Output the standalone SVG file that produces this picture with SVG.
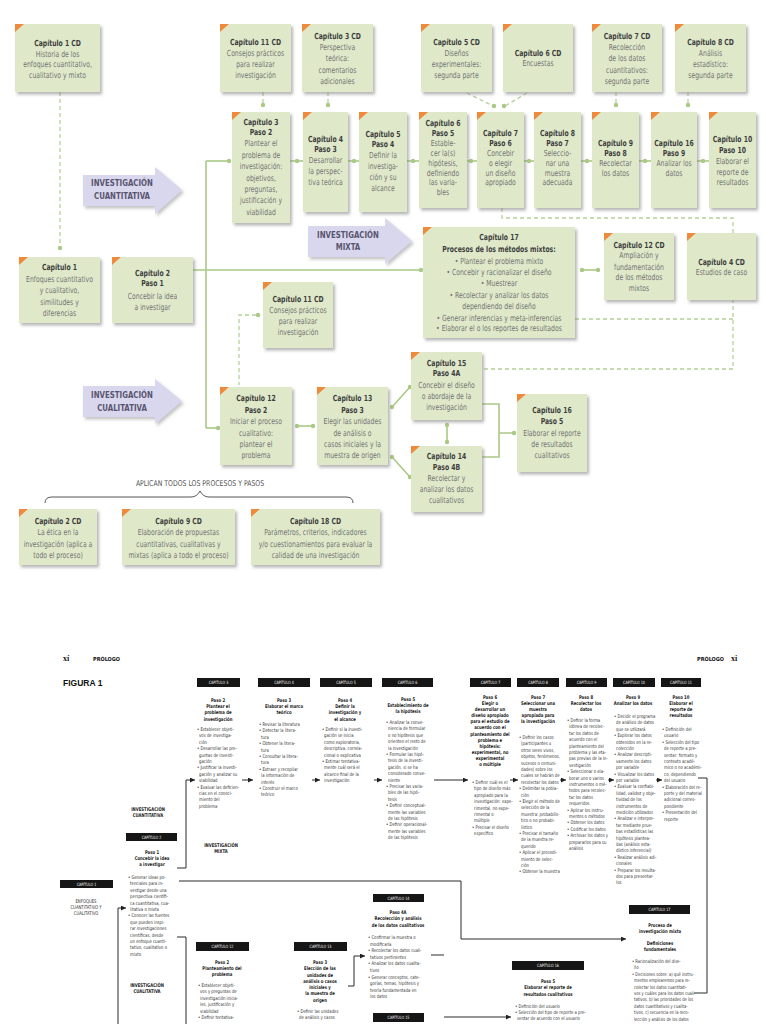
<svg xmlns="http://www.w3.org/2000/svg" width="768" height="1024" viewBox="0 0 768 1024">
<defs>
<filter id="sh" x="-10%" y="-10%" width="125%" height="125%"><feDropShadow dx="2" dy="2.5" stdDeviation="1.4" flood-color="#7a7a7a" flood-opacity="0.55"/></filter>
<filter id="sh2" x="-10%" y="-20%" width="125%" height="150%"><feDropShadow dx="2" dy="2.5" stdDeviation="1.6" flood-color="#8a8a8a" flood-opacity="0.5"/></filter>
<marker id="ah" viewBox="0 0 6 6" refX="6" refY="3" markerWidth="5" markerHeight="5" orient="auto" markerUnits="userSpaceOnUse"><path d="M0,0 L6,3 L0,6 Z" fill="#222"/></marker>
<style>
.bx{fill:#dfe9c9;filter:url(#sh)}
.tr{fill:#ef8a3c}
.t{font-family:"DejaVu Sans Condensed","Liberation Sans",sans-serif;font-size:8.3px;fill:#747474;text-anchor:middle}
.h{font-weight:bold;fill:#3e3e3e}
.ar{fill:#d9d7ee;filter:url(#sh2)}
.at{font-family:"DejaVu Sans Condensed","Liberation Sans",sans-serif;font-size:9.5px;font-weight:bold;fill:#58546f;text-anchor:middle}
.ln{stroke:#a9c985;stroke-width:1.6;fill:none}
.dl{stroke:#b4d298;stroke-width:1.3;stroke-dasharray:4 3;fill:none}
.dt{fill:#a9c985}
.p{font-family:"DejaVu Sans Condensed","Liberation Sans",sans-serif;font-size:5px;fill:#333}
.pb{font-weight:bold;fill:#1a1a1a;text-anchor:middle}
.bar{fill:#161616}
.bt{font-family:"DejaVu Sans Condensed","Liberation Sans",sans-serif;font-size:4.4px;fill:#f4f4f4;text-anchor:middle}
.pl{stroke:#2a2a2a;stroke-width:1;fill:none}
.lb{font-family:"DejaVu Sans Condensed","Liberation Sans",sans-serif;font-size:5px;font-weight:bold;fill:#1a1a1a;text-anchor:middle}
</style>
</defs>
<rect width="768" height="1024" fill="#ffffff"/>

<!-- ===== connectors (top diagram) ===== -->
<g id="connectors">
<path class="dl" d="M60,92 V246"/><circle class="dt" cx="60" cy="248" r="2.2"/>
<path class="dl" d="M263,92 V104"/><circle class="dt" cx="263" cy="105" r="2.2"/>
<path class="dl" d="M328,92 V104"/><circle class="dt" cx="328" cy="105" r="2.2"/>
<path class="dl" d="M467,93 L493,106"/><circle class="dt" cx="494" cy="106" r="2.2"/>
<path class="dl" d="M527,93 L505,106"/><circle class="dt" cx="504" cy="106" r="2.2"/>
<path class="dl" d="M616,92 V104"/><circle class="dt" cx="616" cy="105" r="2.2"/>
<path class="dl" d="M688,92 V104"/><circle class="dt" cx="688" cy="105" r="2.2"/>
<path class="dl" d="M502,208 V218 H733 V369 H484"/>
<path class="dl" d="M575,319 H733"/>
<path class="dl" d="M256,315 H239 V385"/><circle class="dt" cx="258" cy="315" r="2.2"/>

<path class="ln" d="M206,161 V428"/>
<path class="ln" d="M206,161 H228"/><circle class="dt" cx="229" cy="161" r="2.2"/>
<path class="ln" d="M290,161 H303"/><circle class="dt" cx="297" cy="161" r="2.2"/>
<path class="ln" d="M348,161 H359"/><circle class="dt" cx="354" cy="161" r="2.2"/>
<path class="ln" d="M407,161 H419"/><circle class="dt" cx="413" cy="161" r="2.2"/>
<path class="ln" d="M467,161 H477"/><circle class="dt" cx="471" cy="161" r="2.2"/>
<path class="ln" d="M524,161 H534"/><circle class="dt" cx="529" cy="161" r="2.2"/>
<path class="ln" d="M581,161 H592"/><circle class="dt" cx="587" cy="161" r="2.2"/>
<path class="ln" d="M639,161 H651"/><circle class="dt" cx="645" cy="161" r="2.2"/>
<path class="ln" d="M697,161 H709"/><circle class="dt" cx="703" cy="161" r="2.2"/>
<path class="ln" d="M193,270 H420"/><circle class="dt" cx="421" cy="270" r="2.2"/>
<path class="ln" d="M582,270 H598"/><circle class="dt" cx="582" cy="270" r="2.2"/><circle class="dt" cx="598" cy="270" r="2.2"/>
<path class="ln" d="M206,428 H217"/><circle class="dt" cx="218" cy="428" r="2.2"/>
<path class="ln" d="M297,426 H313"/><circle class="dt" cx="297" cy="426" r="2.2"/><circle class="dt" cx="313" cy="426" r="2.2"/>
<path class="ln" d="M392,407 L410,387"/><circle class="dt" cx="392" cy="407" r="2.2"/><circle class="dt" cx="410" cy="387" r="2.2"/>
<path class="ln" d="M392,457 L410,477"/><circle class="dt" cx="392" cy="457" r="2.2"/><circle class="dt" cx="410" cy="477" r="2.2"/>
<path class="ln" d="M447,425 V442"/><circle class="dt" cx="447" cy="425" r="2.2"/><circle class="dt" cx="447" cy="442" r="2.2"/>
<path class="ln" d="M482,404 H499 V457 H482 M499,433 H514"/><circle class="dt" cx="514" cy="433" r="2.2"/>
<path d="M45,503 Q45,497 52,497 H191 Q197,497 200,491 Q203,497 209,497 H346 Q353,497 353,503" fill="none" stroke="#555" stroke-width="1"/>
</g>

<!-- ===== arrows ===== -->
<g id="arrow-cuantitativa"><polygon class="ar" points="83,175 155,175 155,167 182,190 155,214 155,206 83,206"/><text class="at" transform="translate(122 186) scale(0.82 1)"><tspan x="0" y="0">INVESTIGACIÓN</tspan><tspan x="0" dy="13">CUANTITATIVA</tspan></text></g>
<g id="arrow-mixta"><polygon class="ar" points="308,226 385,226 385,218 412,241 385,264 385,257 308,257"/><text class="at" transform="translate(348 238) scale(0.82 1)"><tspan x="0" y="0">INVESTIGACIÓN</tspan><tspan x="0" dy="12">MIXTA</tspan></text></g>
<g id="arrow-cualitativa"><polygon class="ar" points="83,386 155,386 155,379 182,401 155,424 155,417 83,417"/><text class="at" transform="translate(122 398) scale(0.82 1)"><tspan x="0" y="0">INVESTIGACIÓN</tspan><tspan x="0" dy="13">CUALITATIVA</tspan></text></g>

<!-- ===== top row CD nodes ===== -->
<g id="cap1cd"><rect class="bx" x="15" y="24" width="85" height="68"/><polygon class="tr" points="15,24 24,24 15,32"/><text class="t" transform="translate(57.5 46) scale(0.82 1)"><tspan class="h" x="0" y="0">Capítulo 1 CD</tspan><tspan x="0" dy="10.7">Historia de los</tspan><tspan x="0" dy="10.7">enfoques cuantitativo,</tspan><tspan x="0" dy="10.7">cualitativo y mixto</tspan></text></g>
<g id="cap11cd"><rect class="bx" x="220" y="24" width="71" height="68"/><polygon class="tr" points="220,24 229,24 220,32"/><text class="t" transform="translate(255.5 45) scale(0.82 1)"><tspan class="h" x="0" y="0">Capítulo 11 CD</tspan><tspan x="0" dy="11">Consejos prácticos</tspan><tspan x="0" dy="11">para realizar</tspan><tspan x="0" dy="11">investigación</tspan></text></g>
<g id="cap3cd"><rect class="bx" x="302" y="24" width="71" height="68"/><polygon class="tr" points="302,24 311,24 302,32"/><text class="t" transform="translate(337.5 39) scale(0.82 1)"><tspan class="h" x="0" y="0">Capítulo 3 CD</tspan><tspan x="0" dy="11.2">Perspectiva</tspan><tspan x="0" dy="11.2">teórica:</tspan><tspan x="0" dy="11.2">comentarios</tspan><tspan x="0" dy="11.2">adicionales</tspan></text></g>
<g id="cap5cd"><rect class="bx" x="421" y="24" width="71" height="68"/><polygon class="tr" points="421,24 430,24 421,32"/><text class="t" transform="translate(456.5 45) scale(0.82 1)"><tspan class="h" x="0" y="0">Capítulo 5 CD</tspan><tspan x="0" dy="11">Diseños</tspan><tspan x="0" dy="11">experimentales:</tspan><tspan x="0" dy="11">segunda parte</tspan></text></g>
<g id="cap6cd"><rect class="bx" x="503" y="24" width="70" height="68"/><polygon class="tr" points="503,24 512,24 503,32"/><text class="t" transform="translate(538 56) scale(0.82 1)"><tspan class="h" x="0" y="0">Capítulo 6 CD</tspan><tspan x="0" dy="10.5">Encuestas</tspan></text></g>
<g id="cap7cd"><rect class="bx" x="592" y="24" width="70" height="68"/><polygon class="tr" points="592,24 601,24 592,32"/><text class="t" transform="translate(627 39) scale(0.82 1)"><tspan class="h" x="0" y="0">Capítulo 7 CD</tspan><tspan x="0" dy="11.2">Recolección</tspan><tspan x="0" dy="11.2">de los datos</tspan><tspan x="0" dy="11.2">cuantitativos:</tspan><tspan x="0" dy="11.2">segunda parte</tspan></text></g>
<g id="cap8cd"><rect class="bx" x="675" y="24" width="71" height="68"/><polygon class="tr" points="675,24 684,24 675,32"/><text class="t" transform="translate(710.5 45) scale(0.82 1)"><tspan class="h" x="0" y="0">Capítulo 8 CD</tspan><tspan x="0" dy="11">Análisis</tspan><tspan x="0" dy="11">estadístico:</tspan><tspan x="0" dy="11">segunda parte</tspan></text></g>

<!-- ===== quantitative steps ===== -->
<g id="cap3p2"><rect class="bx" x="232" y="112" width="58" height="111"/><polygon class="tr" points="232,112 241,112 232,120"/><text class="t" transform="translate(261 125) scale(0.82 1)"><tspan class="h" x="0" y="0">Capítulo 3</tspan><tspan class="h" x="0" dy="10">Paso 2</tspan><tspan x="0" dy="11.4">Plantear el</tspan><tspan x="0" dy="11.4">problema de</tspan><tspan x="0" dy="11.4">investigación:</tspan><tspan x="0" dy="11.4">objetivos,</tspan><tspan x="0" dy="11.4">preguntas,</tspan><tspan x="0" dy="11.4">justificación y</tspan><tspan x="0" dy="11.4">viabilidad</tspan></text></g>
<g id="cap4p3"><rect class="bx" x="303" y="112" width="45" height="100"/><polygon class="tr" points="303,112 312,112 303,120"/><text class="t" transform="translate(325.5 142) scale(0.82 1)"><tspan class="h" x="0" y="0">Capítulo 4</tspan><tspan class="h" x="0" dy="10">Paso 3</tspan><tspan x="0" dy="11">Desarrollar</tspan><tspan x="0" dy="11">la perspec-</tspan><tspan x="0" dy="11">tiva teórica</tspan></text></g>
<g id="cap5p4"><rect class="bx" x="359" y="112" width="48" height="100"/><polygon class="tr" points="359,112 368,112 359,120"/><text class="t" transform="translate(383 137) scale(0.82 1)"><tspan class="h" x="0" y="0">Capítulo 5</tspan><tspan class="h" x="0" dy="10">Paso 4</tspan><tspan x="0" dy="11">Definir la</tspan><tspan x="0" dy="11">investiga-</tspan><tspan x="0" dy="11">ción y su</tspan><tspan x="0" dy="11">alcance</tspan></text></g>
<g id="cap6p5"><rect class="bx" x="419" y="112" width="48" height="96"/><polygon class="tr" points="419,112 428,112 419,120"/><text class="t" transform="translate(443 126) scale(0.82 1)"><tspan class="h" x="0" y="0">Capítulo 6</tspan><tspan class="h" x="0" dy="10">Paso 5</tspan><tspan x="0" dy="10">Estable-</tspan><tspan x="0" dy="10">cer la(s)</tspan><tspan x="0" dy="10">hipótesis,</tspan><tspan x="0" dy="9.7">definiendo</tspan><tspan x="0" dy="9.7">las varia-</tspan><tspan x="0" dy="9.7">bles</tspan></text></g>
<g id="cap7p6"><rect class="bx" x="477" y="112" width="47" height="96"/><polygon class="tr" points="477,112 486,112 477,120"/><text class="t" transform="translate(500.5 136) scale(0.82 1)"><tspan class="h" x="0" y="0">Capítulo 7</tspan><tspan class="h" x="0" dy="10">Paso 6</tspan><tspan x="0" dy="10">Concebir</tspan><tspan x="0" dy="10">o elegir</tspan><tspan x="0" dy="9.7">un diseño</tspan><tspan x="0" dy="9.7">apropiado</tspan></text></g>
<g id="cap8p7"><rect class="bx" x="534" y="112" width="47" height="96"/><polygon class="tr" points="534,112 543,112 534,120"/><text class="t" transform="translate(557.5 136) scale(0.82 1)"><tspan class="h" x="0" y="0">Capítulo 8</tspan><tspan class="h" x="0" dy="10">Paso 7</tspan><tspan x="0" dy="10">Seleccio-</tspan><tspan x="0" dy="10">nar una</tspan><tspan x="0" dy="9.7">muestra</tspan><tspan x="0" dy="9.7">adecuada</tspan></text></g>
<g id="cap9p8"><rect class="bx" x="592" y="112" width="47" height="96"/><polygon class="tr" points="592,112 601,112 592,120"/><text class="t" transform="translate(615.5 146) scale(0.82 1)"><tspan class="h" x="0" y="0">Capítulo 9</tspan><tspan class="h" x="0" dy="10">Paso 8</tspan><tspan x="0" dy="10">Recolectar</tspan><tspan x="0" dy="9.7">los datos</tspan></text></g>
<g id="cap16p9"><rect class="bx" x="651" y="112" width="46" height="96"/><polygon class="tr" points="651,112 660,112 651,120"/><text class="t" transform="translate(674 146) scale(0.82 1)"><tspan class="h" x="0" y="0">Capítulo 16</tspan><tspan class="h" x="0" dy="10">Paso 9</tspan><tspan x="0" dy="10">Analizar los</tspan><tspan x="0" dy="9.7">datos</tspan></text></g>
<g id="cap10p10"><rect class="bx" x="709" y="112" width="47" height="96"/><polygon class="tr" points="709,112 718,112 709,120"/><text class="t" transform="translate(732.5 142) scale(0.82 1)"><tspan class="h" x="0" y="0">Capítulo 10</tspan><tspan class="h" x="0" dy="11">Paso 10</tspan><tspan x="0" dy="11">Elaborar el</tspan><tspan x="0" dy="11">reporte de</tspan><tspan x="0" dy="10.5">resultados</tspan></text></g>

<!-- ===== middle ===== -->
<g id="cap1"><rect class="bx" x="19" y="257" width="81" height="66"/><polygon class="tr" points="19,257 28,257 19,265"/><text class="t" transform="translate(59.5 270) scale(0.82 1)"><tspan class="h" x="0" y="0">Capítulo 1</tspan><tspan x="0" dy="12">Enfoques cuantitativo</tspan><tspan x="0" dy="11.5">y cualitativo,</tspan><tspan x="0" dy="11.2">similitudes y</tspan><tspan x="0" dy="11.2">diferencias</tspan></text></g>
<g id="cap2p1"><rect class="bx" x="112" y="257" width="81" height="66"/><polygon class="tr" points="112,257 121,257 112,265"/><text class="t" transform="translate(152.5 276) scale(0.82 1)"><tspan class="h" x="0" y="0">Capítulo 2</tspan><tspan class="h" x="0" dy="10.5">Paso 1</tspan><tspan x="0" dy="12.5">Concebir la idea</tspan><tspan x="0" dy="11">a investigar</tspan></text></g>
<g id="cap11cd-b"><rect class="bx" x="263" y="282" width="70" height="66"/><polygon class="tr" points="263,282 272,282 263,290"/><text class="t" transform="translate(298 302) scale(0.82 1)"><tspan class="h" x="0" y="0">Capítulo 11 CD</tspan><tspan x="0" dy="11">Consejos prácticos</tspan><tspan x="0" dy="11">para realizar</tspan><tspan x="0" dy="11">investigación</tspan></text></g>
<g id="cap17"><rect class="bx" x="423" y="227" width="152" height="111"/><polygon class="tr" points="423,227 432,227 423,235"/><text class="t" transform="translate(499 240) scale(0.82 1)"><tspan class="h" x="0" y="0">Capítulo 17</tspan><tspan class="h" x="0" dy="12">Procesos de los métodos mixtos:</tspan><tspan x="0" dy="12.5">• Plantear el problema mixto</tspan><tspan x="0" dy="10.8">• Concebir y racionalizar el diseño</tspan><tspan x="0" dy="10.8">• Muestrear</tspan><tspan x="0" dy="11.5">• Recolectar y analizar los datos</tspan><tspan x="0" dy="11">dependiendo del diseño</tspan><tspan x="0" dy="12">• Generar inferencias y meta-inferencias</tspan><tspan x="0" dy="10.5">• Elaborar el o los reportes de resultados</tspan></text></g>
<g id="cap12cd"><rect class="bx" x="604" y="233" width="70" height="67"/><polygon class="tr" points="604,233 613,233 604,241"/><text class="t" transform="translate(639 248) scale(0.82 1)"><tspan class="h" x="0" y="0">Capítulo 12 CD</tspan><tspan x="0" dy="10.5">Ampliación y</tspan><tspan x="0" dy="11.5">fundamentación</tspan><tspan x="0" dy="10.5">de los métodos</tspan><tspan x="0" dy="11">mixtos</tspan></text></g>
<g id="cap4cd"><rect class="bx" x="687" y="233" width="69" height="67"/><polygon class="tr" points="687,233 696,233 687,241"/><text class="t" transform="translate(721.5 265) scale(0.82 1)"><tspan class="h" x="0" y="0">Capítulo 4 CD</tspan><tspan x="0" dy="10.5">Estudios de caso</tspan></text></g>

<!-- ===== qualitative ===== -->
<g id="cap12p2"><rect class="bx" x="220" y="387" width="72" height="78"/><polygon class="tr" points="220,387 229,387 220,395"/><text class="t" transform="translate(256 401) scale(0.82 1)"><tspan class="h" x="0" y="0">Capítulo 12</tspan><tspan class="h" x="0" dy="12">Paso 2</tspan><tspan x="0" dy="11.3">Iniciar el proceso</tspan><tspan x="0" dy="11.3">cualitativo:</tspan><tspan x="0" dy="11.3">plantear el</tspan><tspan x="0" dy="11.3">problema</tspan></text></g>
<g id="cap13p3"><rect class="bx" x="317" y="387" width="71" height="78"/><polygon class="tr" points="317,387 326,387 317,395"/><text class="t" transform="translate(352.5 401) scale(0.82 1)"><tspan class="h" x="0" y="0">Capítulo 13</tspan><tspan class="h" x="0" dy="12">Paso 3</tspan><tspan x="0" dy="11.3">Elegir las unidades</tspan><tspan x="0" dy="11.3">de análisis o</tspan><tspan x="0" dy="11.3">casos iniciales y la</tspan><tspan x="0" dy="11.3">muestra de origen</tspan></text></g>
<g id="cap15p4a"><rect class="bx" x="411" y="352" width="71" height="68"/><polygon class="tr" points="411,352 420,352 411,360"/><text class="t" transform="translate(446.5 366) scale(0.82 1)"><tspan class="h" x="0" y="0">Capítulo 15</tspan><tspan class="h" x="0" dy="10">Paso 4A</tspan><tspan x="0" dy="12">Concebir el diseño</tspan><tspan x="0" dy="11.5">o abordaje de la</tspan><tspan x="0" dy="10.5">investigación</tspan></text></g>
<g id="cap14p4b"><rect class="bx" x="411" y="446" width="71" height="66"/><polygon class="tr" points="411,446 420,446 411,454"/><text class="t" transform="translate(446.5 459) scale(0.82 1)"><tspan class="h" x="0" y="0">Capítulo 14</tspan><tspan class="h" x="0" dy="11">Paso 4B</tspan><tspan x="0" dy="11">Recolectar y</tspan><tspan x="0" dy="11">analizar los datos</tspan><tspan x="0" dy="11">cualitativos</tspan></text></g>
<g id="cap16p5"><rect class="bx" x="517" y="394" width="70" height="78"/><polygon class="tr" points="517,394 526,394 517,402"/><text class="t" transform="translate(552 413) scale(0.82 1)"><tspan class="h" x="0" y="0">Capítulo 16</tspan><tspan class="h" x="0" dy="11">Paso 5</tspan><tspan x="0" dy="12">Elaborar el reporte</tspan><tspan x="0" dy="11">de resultados</tspan><tspan x="0" dy="11">cualitativos</tspan></text></g>

<!-- ===== bottom CD row ===== -->
<text id="aplican" class="t" transform="translate(200 486) scale(0.86 1)" x="0" y="0" style="font-size:8px;fill:#555">APLICAN TODOS LOS PROCESOS Y PASOS</text>
<g id="cap2cd"><rect class="bx" x="19" y="509" width="78" height="56"/><polygon class="tr" points="19,509 28,509 19,517"/><text class="t" transform="translate(58 524) scale(0.82 1)"><tspan class="h" x="0" y="0">Capítulo 2 CD</tspan><tspan x="0" dy="11.5">La ética en la</tspan><tspan x="0" dy="11.2">investigación (aplica a</tspan><tspan x="0" dy="11.2">todo el proceso)</tspan></text></g>
<g id="cap9cd"><rect class="bx" x="122" y="509" width="113" height="56"/><polygon class="tr" points="122,509 131,509 122,517"/><text class="t" transform="translate(178.5 524) scale(0.82 1)"><tspan class="h" x="0" y="0">Capítulo 9 CD</tspan><tspan x="0" dy="11.5">Elaboración de propuestas</tspan><tspan x="0" dy="11.2">cuantitativas, cualitativas y</tspan><tspan x="0" dy="11.2">mixtas (aplica a todo el proceso)</tspan></text></g>
<g id="cap18cd"><rect class="bx" x="251" y="509" width="129" height="56"/><polygon class="tr" points="251,509 260,509 251,517"/><text class="t" transform="translate(315.5 524) scale(0.82 1)"><tspan class="h" x="0" y="0">Capítulo 18 CD</tspan><tspan x="0" dy="11.5">Parámetros, criterios, indicadores</tspan><tspan x="0" dy="11.2">y/o cuestionamientos para evaluar la</tspan><tspan x="0" dy="11.2">calidad de una investigación</tspan></text></g>

<!-- ===== printed page (bottom half) ===== -->
<g id="page-header">
<text x="63" y="661" style="font-family:'Liberation Serif',serif;font-size:8px;font-weight:bold;fill:#111">xí</text>
<text x="93" y="661" style="font-family:'DejaVu Sans Condensed','Liberation Sans',sans-serif;font-size:5.5px;font-weight:bold;fill:#111">PRÓLOGO</text>
<text x="697" y="661" style="font-family:'DejaVu Sans Condensed','Liberation Sans',sans-serif;font-size:5.5px;font-weight:bold;fill:#111">PRÓLOGO</text>
<text x="731" y="661" style="font-family:'Liberation Serif',serif;font-size:8px;font-weight:bold;fill:#111">xi</text>
<text x="63" y="686" style="font-family:'Liberation Sans','DejaVu Sans',sans-serif;font-size:8.5px;font-weight:bold;fill:#111">FIGURA 1</text>
</g>

<g id="page-connectors">
<path class="pl" d="M186,780 V868 H177"/>
<path class="pl" d="M186,780 H195" marker-end="url(#ah)"/>
<path class="pl" d="M242,780 H253" marker-end="url(#ah)"/>
<path class="pl" d="M312,780 H320" marker-end="url(#ah)"/>
<path class="pl" d="M374,780 H382" marker-end="url(#ah)"/>
<path class="pl" d="M434,780 H468" marker-end="url(#ah)"/>
<path class="pl" d="M510,780 H518" marker-end="url(#ah)"/>
<path class="pl" d="M560,780 H566" marker-end="url(#ah)"/>
<path class="pl" d="M608,780 H614" marker-end="url(#ah)"/>
<path class="pl" d="M656,780 H662" marker-end="url(#ah)"/>
<path class="pl" d="M698,778 H707 V993 H694"/>
<path class="pl" d="M179,881 H461 V939 H626" marker-end="url(#ah)"/>
<path class="pl" d="M118,1024 V908 H126" marker-end="url(#ah)"/>
<path class="pl" d="M177,937 H186 V1024"/>
<path class="pl" d="M348,986 H354 V956 H365" marker-end="url(#ah)"/>
<path class="pl" d="M431,955 H444"/>
<path class="pl" d="M444,1017 H511" marker-end="url(#ah)"/>
</g>

<g id="page-labels">
<text class="lb" transform="translate(148 811) scale(0.85 1)"><tspan x="0" y="0">INVESTIGACIÓN</tspan><tspan x="0" dy="6.5">CUANTITATIVA</tspan></text>
<text class="lb" transform="translate(221 847) scale(0.85 1)"><tspan x="0" y="0">INVESTIGACIÓN</tspan><tspan x="0" dy="6.5">MIXTA</tspan></text>
<text class="lb" transform="translate(147 987) scale(0.85 1)"><tspan x="0" y="0">INVESTIGACIÓN</tspan><tspan x="0" dy="6.5">CUALITATIVA</tspan></text>
</g>

<g id="p-cap3"><rect class="bar" x="197" y="678" width="43" height="9"/><text class="bt" transform="translate(218.5 684.3) scale(0.85 1)">CAPÍTULO 3</text>
<text class="p pb" transform="translate(218 702) scale(0.85 1)"><tspan x="0" y="0">Paso 2</tspan><tspan x="0" dy="6.2">Plantear el</tspan><tspan x="0" dy="6.2">problema de</tspan><tspan x="0" dy="6.2">investigación</tspan></text>
<text class="p" transform="translate(197 731) scale(0.85 1)"><tspan x="0" y="0">• Establecer objeti-</tspan><tspan x="2.5" dy="6.4">vos de investiga-</tspan><tspan x="2.5" dy="6.4">ción</tspan><tspan x="0" dy="6.4">• Desarrollar las pre-</tspan><tspan x="2.5" dy="6.4">guntas de investi-</tspan><tspan x="2.5" dy="6.4">gación</tspan><tspan x="0" dy="6.4">• Justificar la investi-</tspan><tspan x="2.5" dy="6.4">gación y analizar su</tspan><tspan x="2.5" dy="6.4">viabilidad</tspan><tspan x="0" dy="6.4">• Evaluar las deficien-</tspan><tspan x="2.5" dy="6.4">cias en el conoci-</tspan><tspan x="2.5" dy="6.4">miento del</tspan><tspan x="2.5" dy="6.4">problema</tspan></text></g>

<g id="p-cap4"><rect class="bar" x="258" y="678" width="52" height="9"/><text class="bt" transform="translate(284 684.3) scale(0.85 1)">CAPÍTULO 4</text>
<text class="p pb" transform="translate(284 702) scale(0.85 1)"><tspan x="0" y="0">Paso 3</tspan><tspan x="0" dy="6.2">Elaborar el marco</tspan><tspan x="0" dy="6.2">teórico</tspan></text>
<text class="p" transform="translate(259 726) scale(0.85 1)"><tspan x="0" y="0">• Revisar la literatura</tspan><tspan x="0" dy="6.4">• Detectar la litera-</tspan><tspan x="2.5" dy="6.4">tura</tspan><tspan x="0" dy="6.4">• Obtener la litera-</tspan><tspan x="2.5" dy="6.4">tura</tspan><tspan x="0" dy="6.4">• Consultar la litera-</tspan><tspan x="2.5" dy="6.4">tura</tspan><tspan x="0" dy="6.4">• Extraer y recopilar</tspan><tspan x="2.5" dy="6.4">la información de</tspan><tspan x="2.5" dy="6.4">interés</tspan><tspan x="0" dy="6.4">• Construir el marco</tspan><tspan x="2.5" dy="6.4">teórico</tspan></text></g>

<g id="p-cap5"><rect class="bar" x="320" y="678" width="52" height="9"/><text class="bt" transform="translate(346 684.3) scale(0.85 1)">CAPÍTULO 5</text>
<text class="p pb" transform="translate(345 702) scale(0.85 1)"><tspan x="0" y="0">Paso 4</tspan><tspan x="0" dy="6.2">Definir la</tspan><tspan x="0" dy="6.2">investigación y</tspan><tspan x="0" dy="6.2">el alcance</tspan></text>
<text class="p" transform="translate(322 731) scale(0.85 1)"><tspan x="0" y="0">• Definir si la investi-</tspan><tspan x="2.5" dy="6.4">gación se inicia</tspan><tspan x="2.5" dy="6.4">como exploratoria,</tspan><tspan x="2.5" dy="6.4">descriptiva, correla-</tspan><tspan x="2.5" dy="6.4">cional o explicativa</tspan><tspan x="0" dy="6.4">• Estimar tentativa-</tspan><tspan x="2.5" dy="6.4">mente cuál será el</tspan><tspan x="2.5" dy="6.4">alcance final de la</tspan><tspan x="2.5" dy="6.4">investigación</tspan></text></g>

<g id="p-cap6"><rect class="bar" x="382" y="678" width="51" height="9"/><text class="bt" transform="translate(407.5 684.3) scale(0.85 1)">CAPÍTULO 6</text>
<text class="p pb" transform="translate(408 701) scale(0.85 1)"><tspan x="0" y="0">Paso 5</tspan><tspan x="0" dy="6.2">Establecimiento de</tspan><tspan x="0" dy="6.2">la hipótesis</tspan></text>
<text class="p" transform="translate(386 724) scale(0.85 1)"><tspan x="0" y="0">• Analizar la conve-</tspan><tspan x="2.5" dy="6.4">niencia de formular</tspan><tspan x="2.5" dy="6.4">o no hipótesis que</tspan><tspan x="2.5" dy="6.4">orienten el resto de</tspan><tspan x="2.5" dy="6.4">la investigación</tspan><tspan x="0" dy="6.4">• Formular las hipó-</tspan><tspan x="2.5" dy="6.4">tesis de la investi-</tspan><tspan x="2.5" dy="6.4">gación, si se ha</tspan><tspan x="2.5" dy="6.4">considerado conve-</tspan><tspan x="2.5" dy="6.4">niente</tspan><tspan x="0" dy="6.4">• Precisar las varia-</tspan><tspan x="2.5" dy="6.4">bles de las hipó-</tspan><tspan x="2.5" dy="6.4">tesis</tspan><tspan x="0" dy="6.4">• Definir conceptual-</tspan><tspan x="2.5" dy="6.4">mente las variables</tspan><tspan x="2.5" dy="6.4">de las hipótesis</tspan><tspan x="0" dy="6.4">• Definir operacional-</tspan><tspan x="2.5" dy="6.4">mente las variables</tspan><tspan x="2.5" dy="6.4">de las hipótesis</tspan></text></g>

<g id="p-cap7"><rect class="bar" x="470" y="678" width="41" height="9"/><text class="bt" transform="translate(490.5 684.3) scale(0.85 1)">CAPÍTULO 7</text>
<text class="p pb" transform="translate(490 699) scale(0.85 1)"><tspan x="0" y="0">Paso 6</tspan><tspan x="0" dy="6.1">Elegir o</tspan><tspan x="0" dy="6.1">desarrollar un</tspan><tspan x="0" dy="6.1">diseño apropiado</tspan><tspan x="0" dy="6.1">para el estudio de</tspan><tspan x="0" dy="6.1">acuerdo con el</tspan><tspan x="0" dy="6.1">planteamiento del</tspan><tspan x="0" dy="6.1">problema e</tspan><tspan x="0" dy="6.1">hipótesis:</tspan><tspan x="0" dy="6.1">experimental, no</tspan><tspan x="0" dy="6.1">experimental</tspan><tspan x="0" dy="6.1">o múltiple</tspan></text>
<text class="p" transform="translate(472 784) scale(0.85 1)"><tspan x="0" y="0">• Definir cuál es el</tspan><tspan x="2.5" dy="6.4">tipo de diseño más</tspan><tspan x="2.5" dy="6.4">apropiado para la</tspan><tspan x="2.5" dy="6.4">investigación: expe-</tspan><tspan x="2.5" dy="6.4">rimental, no expe-</tspan><tspan x="2.5" dy="6.4">rimental o</tspan><tspan x="2.5" dy="6.4">múltiple</tspan><tspan x="0" dy="6.4">• Precisar el diseño</tspan><tspan x="2.5" dy="6.4">específico</tspan></text></g>

<g id="p-cap8"><rect class="bar" x="517" y="678" width="42" height="9"/><text class="bt" transform="translate(538 684.3) scale(0.85 1)">CAPÍTULO 8</text>
<text class="p pb" transform="translate(538 699) scale(0.85 1)"><tspan x="0" y="0">Paso 7</tspan><tspan x="0" dy="6.1">Seleccionar una</tspan><tspan x="0" dy="6.1">muestra</tspan><tspan x="0" dy="6.1">apropiada para</tspan><tspan x="0" dy="6.1">la investigación</tspan></text>
<text class="p" transform="translate(519 739) scale(0.85 1)"><tspan x="0" y="0">• Definir los casos</tspan><tspan x="2.5" dy="6.4">(participantes u</tspan><tspan x="2.5" dy="6.4">otros seres vivos,</tspan><tspan x="2.5" dy="6.4">objetos, fenómenos,</tspan><tspan x="2.5" dy="6.4">sucesos o comuni-</tspan><tspan x="2.5" dy="6.4">dades) sobre los</tspan><tspan x="2.5" dy="6.4">cuales se habrán de</tspan><tspan x="2.5" dy="6.4">recolectar los datos</tspan><tspan x="0" dy="6.4">• Delimitar la pobla-</tspan><tspan x="2.5" dy="6.4">ción</tspan><tspan x="0" dy="6.4">• Elegir el método de</tspan><tspan x="2.5" dy="6.4">selección de la</tspan><tspan x="2.5" dy="6.4">muestra: probabilís-</tspan><tspan x="2.5" dy="6.4">tico o no probabi-</tspan><tspan x="2.5" dy="6.4">lístico</tspan><tspan x="0" dy="6.4">• Precisar el tamaño</tspan><tspan x="2.5" dy="6.4">de la muestra re-</tspan><tspan x="2.5" dy="6.4">querido</tspan><tspan x="0" dy="6.4">• Aplicar el procedi-</tspan><tspan x="2.5" dy="6.4">miento de selec-</tspan><tspan x="2.5" dy="6.4">ción</tspan><tspan x="0" dy="6.4">• Obtener la muestra</tspan></text></g>

<g id="p-cap9"><rect class="bar" x="566" y="678" width="41" height="9"/><text class="bt" transform="translate(586.5 684.3) scale(0.85 1)">CAPÍTULO 9</text>
<text class="p pb" transform="translate(586 699) scale(0.85 1)"><tspan x="0" y="0">Paso 8</tspan><tspan x="0" dy="6.1">Recolectar los</tspan><tspan x="0" dy="6.1">datos</tspan></text>
<text class="p" transform="translate(567 722) scale(0.85 1)"><tspan x="0" y="0">• Definir la forma</tspan><tspan x="2.5" dy="6.4">idónea de recolec-</tspan><tspan x="2.5" dy="6.4">tar los datos de</tspan><tspan x="2.5" dy="6.4">acuerdo con el</tspan><tspan x="2.5" dy="6.4">planteamiento del</tspan><tspan x="2.5" dy="6.4">problema y las eta-</tspan><tspan x="2.5" dy="6.4">pas previas de la in-</tspan><tspan x="2.5" dy="6.4">vestigación</tspan><tspan x="0" dy="6.4">• Seleccionar o ela-</tspan><tspan x="2.5" dy="6.4">borar uno o varios</tspan><tspan x="2.5" dy="6.4">instrumentos o mé-</tspan><tspan x="2.5" dy="6.4">todos para recolec-</tspan><tspan x="2.5" dy="6.4">tar los datos</tspan><tspan x="2.5" dy="6.4">requeridos</tspan><tspan x="0" dy="6.4">• Aplicar los instru-</tspan><tspan x="2.5" dy="6.4">mentos o métodos</tspan><tspan x="0" dy="6.4">• Obtener los datos</tspan><tspan x="0" dy="6.4">• Codificar los datos</tspan><tspan x="0" dy="6.4">• Archivar los datos y</tspan><tspan x="2.5" dy="6.4">prepararlos para su</tspan><tspan x="2.5" dy="6.4">análisis</tspan></text></g>

<g id="p-cap10"><rect class="bar" x="613" y="678" width="42" height="9"/><text class="bt" transform="translate(634 684.3) scale(0.85 1)">CAPÍTULO 10</text>
<text class="p pb" transform="translate(633 699) scale(0.85 1)"><tspan x="0" y="0">Paso 9</tspan><tspan x="0" dy="6.1">Analizar los datos</tspan></text>
<text class="p" transform="translate(614 718) scale(0.85 1)"><tspan x="0" y="0">• Decidir el programa</tspan><tspan x="2.5" dy="6.4">de análisis de datos</tspan><tspan x="2.5" dy="6.4">que se utilizará</tspan><tspan x="0" dy="6.4">• Explorar los datos</tspan><tspan x="2.5" dy="6.4">obtenidos en la re-</tspan><tspan x="2.5" dy="6.4">colección</tspan><tspan x="0" dy="6.4">• Analizar descripti-</tspan><tspan x="2.5" dy="6.4">vamente los datos</tspan><tspan x="2.5" dy="6.4">por variable</tspan><tspan x="0" dy="6.4">• Visualizar los datos</tspan><tspan x="2.5" dy="6.4">por variable</tspan><tspan x="0" dy="6.4">• Evaluar la confiabi-</tspan><tspan x="2.5" dy="6.4">lidad, validez y obje-</tspan><tspan x="2.5" dy="6.4">tividad de los</tspan><tspan x="2.5" dy="6.4">instrumentos de</tspan><tspan x="2.5" dy="6.4">medición utilizados</tspan><tspan x="0" dy="6.4">• Analizar e interpre-</tspan><tspan x="2.5" dy="6.4">tar mediante prue-</tspan><tspan x="2.5" dy="6.4">bas estadísticas las</tspan><tspan x="2.5" dy="6.4">hipótesis plantea-</tspan><tspan x="2.5" dy="6.4">das (análisis esta-</tspan><tspan x="2.5" dy="6.4">dístico inferencial)</tspan><tspan x="0" dy="6.4">• Realizar análisis adi-</tspan><tspan x="2.5" dy="6.4">cionales</tspan><tspan x="0" dy="6.4">• Preparar los resulta-</tspan><tspan x="2.5" dy="6.4">dos para presentar-</tspan><tspan x="2.5" dy="6.4">los</tspan></text></g>

<g id="p-cap11"><rect class="bar" x="661" y="678" width="40" height="9"/><text class="bt" transform="translate(681 684.3) scale(0.85 1)">CAPÍTULO 11</text>
<text class="p pb" transform="translate(681 699) scale(0.85 1)"><tspan x="0" y="0">Paso 10</tspan><tspan x="0" dy="6.1">Elaborar el</tspan><tspan x="0" dy="6.1">reporte de</tspan><tspan x="0" dy="6.1">resultados</tspan></text>
<text class="p" transform="translate(662 731) scale(0.85 1)"><tspan x="0" y="0">• Definición del</tspan><tspan x="2.5" dy="6.4">usuario</tspan><tspan x="0" dy="6.4">• Selección del tipo</tspan><tspan x="2.5" dy="6.4">de reporte a pre-</tspan><tspan x="2.5" dy="6.4">sentar: formato y</tspan><tspan x="2.5" dy="6.4">contexto acadé-</tspan><tspan x="2.5" dy="6.4">mico o no académi-</tspan><tspan x="2.5" dy="6.4">co, dependiendo</tspan><tspan x="2.5" dy="6.4">del usuario</tspan><tspan x="0" dy="6.4">• Elaboración del re-</tspan><tspan x="2.5" dy="6.4">porte y del material</tspan><tspan x="2.5" dy="6.4">adicional corres-</tspan><tspan x="2.5" dy="6.4">pondiente</tspan><tspan x="0" dy="6.4">• Presentación del</tspan><tspan x="2.5" dy="6.4">reporte</tspan></text></g>

<g id="p-cap2"><rect class="bar" x="126" y="833" width="51" height="8"/><text class="bt" transform="translate(151.5 838.8) scale(0.85 1)">CAPÍTULO 2</text>
<text class="p pb" transform="translate(152 854) scale(0.85 1)"><tspan x="0" y="0">Paso 1</tspan><tspan x="0" dy="6.2">Concebir la idea</tspan><tspan x="0" dy="6.2">a investigar</tspan></text>
<text class="p" transform="translate(128 879) scale(0.85 1)"><tspan x="0" y="0">• Generar ideas po-</tspan><tspan x="2.5" dy="6.4">tenciales para in-</tspan><tspan x="2.5" dy="6.4">vestigar desde una</tspan><tspan x="2.5" dy="6.4">perspectiva científi-</tspan><tspan x="2.5" dy="6.4">ca cuantitativa, cua-</tspan><tspan x="2.5" dy="6.4">litativa o mixta</tspan><tspan x="0" dy="6.4">• Conocer las fuentes</tspan><tspan x="2.5" dy="6.4">que pueden inspi-</tspan><tspan x="2.5" dy="6.4">rar investigaciones</tspan><tspan x="2.5" dy="6.4">científicas, desde</tspan><tspan x="2.5" dy="6.4">un enfoque cuanti-</tspan><tspan x="2.5" dy="6.4">tativo, cualitativo o</tspan><tspan x="2.5" dy="6.4">mixto</tspan></text></g>

<g id="p-cap1"><rect class="bar" x="60" y="880" width="53" height="8"/><text class="bt" transform="translate(86.5 885.8) scale(0.85 1)">CAPÍTULO 1</text>
<text class="p" transform="translate(86 903) scale(0.85 1)" style="text-anchor:middle"><tspan x="0" y="0">ENFOQUES</tspan><tspan x="0" dy="6.2">CUANTITATIVO Y</tspan><tspan x="0" dy="6.2">CUALITATIVO</tspan></text></g>

<g id="p-cap12"><rect class="bar" x="196" y="942" width="53" height="9"/><text class="bt" transform="translate(222.5 948.3) scale(0.85 1)">CAPÍTULO 12</text>
<text class="p pb" transform="translate(222 964) scale(0.85 1)"><tspan x="0" y="0">Paso 2</tspan><tspan x="0" dy="6.2">Planteamiento del</tspan><tspan x="0" dy="6.2">problema</tspan></text>
<text class="p" transform="translate(198 987) scale(0.85 1)"><tspan x="0" y="0">• Establecer objeti-</tspan><tspan x="2.5" dy="6.4">vos y preguntas de</tspan><tspan x="2.5" dy="6.4">investigación inicia-</tspan><tspan x="2.5" dy="6.4">les, justificación y</tspan><tspan x="2.5" dy="6.4">viabilidad</tspan><tspan x="0" dy="6.4">• Definir tentativa-</tspan></text></g>

<g id="p-cap13"><rect class="bar" x="294" y="942" width="53" height="9"/><text class="bt" transform="translate(320.5 948.3) scale(0.85 1)">CAPÍTULO 13</text>
<text class="p pb" transform="translate(320 964) scale(0.85 1)"><tspan x="0" y="0">Paso 3</tspan><tspan x="0" dy="6.3">Elección de las</tspan><tspan x="0" dy="6.3">unidades de</tspan><tspan x="0" dy="6.3">análisis o casos</tspan><tspan x="0" dy="6.3">iniciales y</tspan><tspan x="0" dy="6.3">la muestra de</tspan><tspan x="0" dy="6.3">origen</tspan></text>
<text class="p" transform="translate(297 1013) scale(0.85 1)"><tspan x="0" y="0">• Definir las unidades</tspan><tspan x="2.5" dy="6.4">de análisis y casos</tspan></text></g>

<g id="p-cap14"><rect class="bar" x="373" y="894" width="51" height="8"/><text class="bt" transform="translate(398.5 899.8) scale(0.85 1)">CAPÍTULO 14</text>
<text class="p pb" transform="translate(398 914) scale(0.85 1)"><tspan x="0" y="0">Paso 4A</tspan><tspan x="0" dy="6.4">Recolección y análisis</tspan><tspan x="0" dy="6.4">de los datos cualitativos</tspan></text>
<text class="p" transform="translate(368 939) scale(0.85 1)"><tspan x="0" y="0">• Confirmar la muestra o</tspan><tspan x="2.5" dy="6.6">modificarla</tspan><tspan x="0" dy="6.6">• Recolectar los datos cuali-</tspan><tspan x="2.5" dy="6.6">tativos pertinentes</tspan><tspan x="0" dy="6.6">• Analizar los datos cualita-</tspan><tspan x="2.5" dy="6.6">tivos</tspan><tspan x="0" dy="6.6">• Generar conceptos, cate-</tspan><tspan x="2.5" dy="6.6">gorías, temas, hipótesis y</tspan><tspan x="2.5" dy="6.6">teoría fundamentada en</tspan><tspan x="2.5" dy="6.6">los datos</tspan></text></g>

<g id="p-cap15"><rect class="bar" x="373" y="1013" width="51" height="9"/><text class="bt" transform="translate(398.5 1019.3) scale(0.85 1)">CAPÍTULO 15</text></g>

<g id="p-cap16"><rect class="bar" x="512" y="961" width="72" height="9"/><text class="bt" transform="translate(548 967.3) scale(0.85 1)">CAPÍTULO 16</text>
<text class="p pb" transform="translate(548 983) scale(0.85 1)"><tspan x="0" y="0">Paso 5</tspan><tspan x="0" dy="6.4">Elaborar el reporte de</tspan><tspan x="0" dy="6.4">resultados cualitativos</tspan></text>
<text class="p" transform="translate(515 1008) scale(0.85 1)"><tspan x="0" y="0">• Definición del usuario</tspan><tspan x="0" dy="6.2">• Selección del tipo de reporte a pre-</tspan><tspan x="2.5" dy="6.2">sentar de acuerdo con el usuario</tspan></text></g>

<g id="p-cap17"><rect class="bar" x="629" y="905" width="61" height="9"/><text class="bt" transform="translate(659.5 911.3) scale(0.85 1)">CAPÍTULO 17</text>
<text class="p pb" transform="translate(660 927) scale(0.85 1)"><tspan x="0" y="0">Proceso de</tspan><tspan x="0" dy="6.2">investigación mixta</tspan><tspan x="0" dy="11.5">Definiciones</tspan><tspan x="0" dy="6.2">fundamentales</tspan></text>
<text class="p" transform="translate(632 963) scale(0.82 1)"><tspan x="0" y="0">• Racionalización del dise-</tspan><tspan x="2.5" dy="6.4">ño</tspan><tspan x="0" dy="6.4">• Decisiones sobre: a) qué instru-</tspan><tspan x="2.5" dy="6.4">mentos emplearemos para re-</tspan><tspan x="2.5" dy="6.4">colectar los datos cuantitati-</tspan><tspan x="2.5" dy="6.4">vos y cuáles para los datos cuali-</tspan><tspan x="2.5" dy="6.4">tativos, b) las prioridades de los</tspan><tspan x="2.5" dy="6.4">datos cuantitativos y cualita-</tspan><tspan x="2.5" dy="6.4">tivos, c) secuencia en la reco-</tspan><tspan x="2.5" dy="6.4">lección y análisis de los datos</tspan></text></g>
</svg>
